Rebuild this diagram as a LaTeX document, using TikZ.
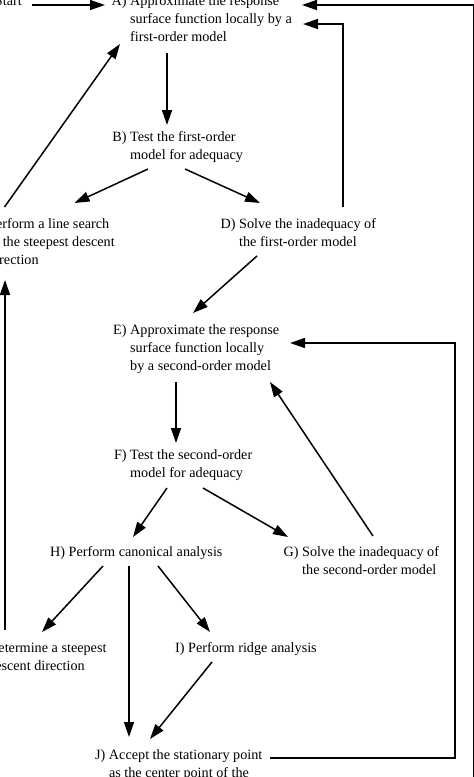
\documentclass[tikz,border=0pt]{standalone}
\usepackage{fontspec}
\setmainfont{Liberation Serif}
\usetikzlibrary{arrows.meta}
\newcommand{\lns}[1]{\begin{tabular}[t]{@{}l@{}}#1\end{tabular}}

\begin{document}
\begin{tikzpicture}[x=1pt,y=-1pt,
		stage/.style={font=\fontsize{14.2}{18}\selectfont,anchor=base west,inner sep=0pt},
		link/.style={line width=1.5pt,-{Triangle[length=15pt,width=10pt]}}]
		\useasboundingbox (0,0) rectangle (474,777);

		\node[stage,anchor=base east] (start) at (22,5.5) {Start};
		\node[stage] (A) at (130,5.5) {\lns{\llap{A) }Approximate the response\\surface function locally by a\\first-order model}};
		\node[stage] (B) at (130,141.5) {\lns{\llap{B) }Test the first-order\\model for adequacy}};
		\node[stage] (C) at (-12,228) {\lns{\llap{C) }Perform a line search\\in the steepest descent\\direction}};
		\node[stage] (D) at (239,228) {\lns{\llap{D) }Solve the inadequacy of\\the first-order model}};
		\node[stage] (E) at (130,334) {\lns{\llap{E) }Approximate the response\\surface function locally\\by a second-order model}};
		\node[stage] (F) at (130,459) {\lns{\llap{F) }Test the second-order\\model for adequacy}};
		\node[stage] (H) at (68.5,556) {\llap{H) }Perform canonical analysis};
		\node[stage] (G) at (302,556) {\lns{\llap{G) }Solve the inadequacy of\\the second-order model}};
		\node[stage] (K) at (-12,652) {\lns{Determine a steepest\\descent direction}};
		\node[stage] (I) at (188,652) {\llap{I) }Perform ridge analysis};
		\node[stage] (J) at (108.8,759) {\lns{\llap{J) }Accept the stationary point\\as the center point of the}};

		\coordinate (back) at (269,777.5);
		\coordinate (corner) at (473.9,5);

		\draw[link] ([shift={(10,-0.5)}]start.base east) -- ([shift={(-25,-0.5)}]A.base west);
		\draw[link] (back) -| (corner) -- ([shift={(172,-0.5)}]A.base west);
		\draw[link] ([shift={(104,-21)}]D.base west) |- ([shift={(173,18.5)}]A.base west);
		\draw[link] ([shift={(37,47.5)}]A.base west) -- ([shift={(37,-16.5)}]B.base west);
		\draw[link] ([shift={(18,27.5)}]B.base west) -- ([shift={(86.5,-25)}]C.base west);
		\draw[link] ([shift={(55,27.5)}]B.base west) -- ([shift={(21,-25)}]D.base west);
		\draw[link] ([shift={(16.5,-21)}]C.base west) -- ([shift={(-10,38.5)}]A.base west);
		\draw[link] ([shift={(17,-22)}]K.base west) -- ([shift={(17,52)}]C.base west);
		\draw[link] ([shift={(18,28)}]D.base west) -- ([shift={(63,-21)}]E.base west);
		\draw[link] ([shift={(46,48)}]E.base west) -- ([shift={(46,-16)}]F.base west);
		\draw[link] ([shift={(37,29)}]F.base west) -- ([shift={(64.5,-19)}]H.base west);
		\draw[link] ([shift={(73,29)}]F.base west) -- ([shift={(-14,-19)}]G.base west);
		\draw[link] ([shift={(71,-20)}]G.base west) -- ([shift={(140,48)}]E.base west);
		\draw[link] ([shift={(34.5,10)}]H.base west) -- ([shift={(54,-20)}]K.base west);
		\draw[link] ([shift={(60.5,10)}]H.base west) -- ([shift={(20.2,-22)}]J.base west);
		\draw[link] ([shift={(89.5,10)}]H.base west) -- ([shift={(22,-20)}]I.base west);
		\draw[link] ([shift={(24,10)}]I.base west) -- ([shift={(41.2,-20)}]J.base west);
		\draw[link] ([shift={(161.2,-1)}]J.base west) -- ++(185,0) |- ([shift={(160,9)}]E.base west);
	\end{tikzpicture}
\end{document}
